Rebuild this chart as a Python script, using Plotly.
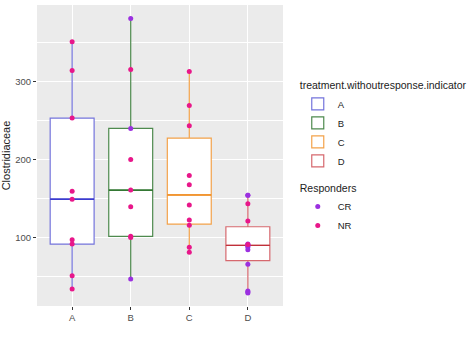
import numpy as np
import plotly.graph_objects as go

categories = ["A", "B", "C", "D"]
values = {
    "A": [351, 314, 253, 159, 149, 97, 91.4, 50.8, 33.7],
    "B": [380.8, 315.4, 239.7, 200, 160.6, 139.2, 101.3, 100, 46.5],
    "C": [312.8, 269.2, 243.1, 179.5, 167.4, 141.4, 122.2, 115.4, 87.2, 80.8],
    "D": [154, 154, 143, 121, 91.4, 91, 90.4, 89, 87.6, 84.1, 65.4, 31.2, 30, 28.6],
}
responders = {
    "A": ["NR"] * 9,
    "B": ["CR", "NR", "CR", "NR", "NR", "NR", "NR", "NR", "CR"],
    "C": ["NR"] * 10,
    "D": ["CR", "CR", "NR", "NR", "CR", "NR", "CR", "CR", "CR", "CR", "CR", "CR", "CR", "CR"],
}
box_colors = {"A": "#7474DC", "B": "#4E8A4E", "C": "#F3A24A", "D": "#D6686E"}
median_colors = {"A": "#1E1EC8", "B": "#1E6A1E", "C": "#F08A1E", "D": "#C0303A"}
resp_colors = {"CR": "#9B30E0", "NR": "#E8178A"}

fig = go.Figure()
for cat in categories:
    v = np.array(values[cat], dtype=float)
    q1, med, q3 = np.percentile(v, [25, 50, 75])
    iqr = q3 - q1
    lo = v[v >= q1 - 1.5 * iqr].min()
    hi = v[v <= q3 + 1.5 * iqr].max()
    fig.add_trace(go.Box(
        x=[cat], q1=[q1], median=[med], q3=[q3], lowerfence=[lo], upperfence=[hi],
        name=cat, width=0.75, whiskerwidth=0, fillcolor="white",
        line=dict(color=box_colors[cat], width=1.2), boxpoints=False,
        legend="legend", hoverinfo="skip",
    ))
    fig.add_trace(go.Box(
        x=[cat], q1=[med], median=[med], q3=[med], lowerfence=[med], upperfence=[med],
        name=cat, width=0.75, whiskerwidth=0, fillcolor="rgba(0,0,0,0)",
        line=dict(color=median_colors[cat], width=1.4), boxpoints=False,
        showlegend=False, hoverinfo="skip",
    ))

for resp in ["CR", "NR"]:
    xs, ys = [], []
    for cat in categories:
        for y, r in zip(values[cat], responders[cat]):
            if r == resp:
                xs.append(cat)
                ys.append(y)
    fig.add_trace(go.Scatter(
        x=xs, y=ys, mode="markers", name=resp,
        marker=dict(color=resp_colors[resp], size=5),
        legend="legend2",
    ))

font = "Liberation Sans, Arial, sans-serif"
fig.update_layout(
    width=474, height=338,
    margin=dict(l=37, r=191, t=5, b=32),
    paper_bgcolor="white", plot_bgcolor="#EBEBEB",
    font=dict(family=font, size=10, color="#222"),
    boxmode="overlay",
    showlegend=True,
    legend=dict(
        title=dict(text="treatment.withoutresponse.indicator", font=dict(size=10.5, color="#222")),
        x=1.06, y=0.765, xanchor="left", yanchor="top",
        font=dict(size=9.5), tracegroupgap=0, itemwidth=30,
        bgcolor="rgba(0,0,0,0)",
    ),
    legend2=dict(
        title=dict(text="Responders", font=dict(size=10.5, color="#222")),
        x=1.06, y=0.424, xanchor="left", yanchor="top",
        font=dict(size=9.5), itemwidth=30,
        bgcolor="rgba(0,0,0,0)",
    ),
)
fig.update_xaxes(
    type="category", categoryorder="array", categoryarray=categories,
    range=[-0.6, 3.6], showgrid=True, gridcolor="white", gridwidth=1.1,
    ticks="outside", ticklen=3, tickcolor="#333", tickwidth=1,
    tickfont=dict(size=9.5, color="#4D4D4D"), zeroline=False,
)
fig.update_yaxes(
    range=[12, 398], tickvals=[100, 200, 300], showgrid=True,
    gridcolor="white", gridwidth=1.1,
    minor=dict(tickvals=[50, 150, 250, 350], showgrid=True, gridcolor="white", gridwidth=0.5),
    ticks="outside", ticklen=3, tickcolor="#333", tickwidth=1,
    tickfont=dict(size=9.5, color="#4D4D4D"), zeroline=False, automargin=False,
    title=dict(text="Clostridiaceae", font=dict(size=11, color="#222"), standoff=2),
)
fig.write_html("out.html")
